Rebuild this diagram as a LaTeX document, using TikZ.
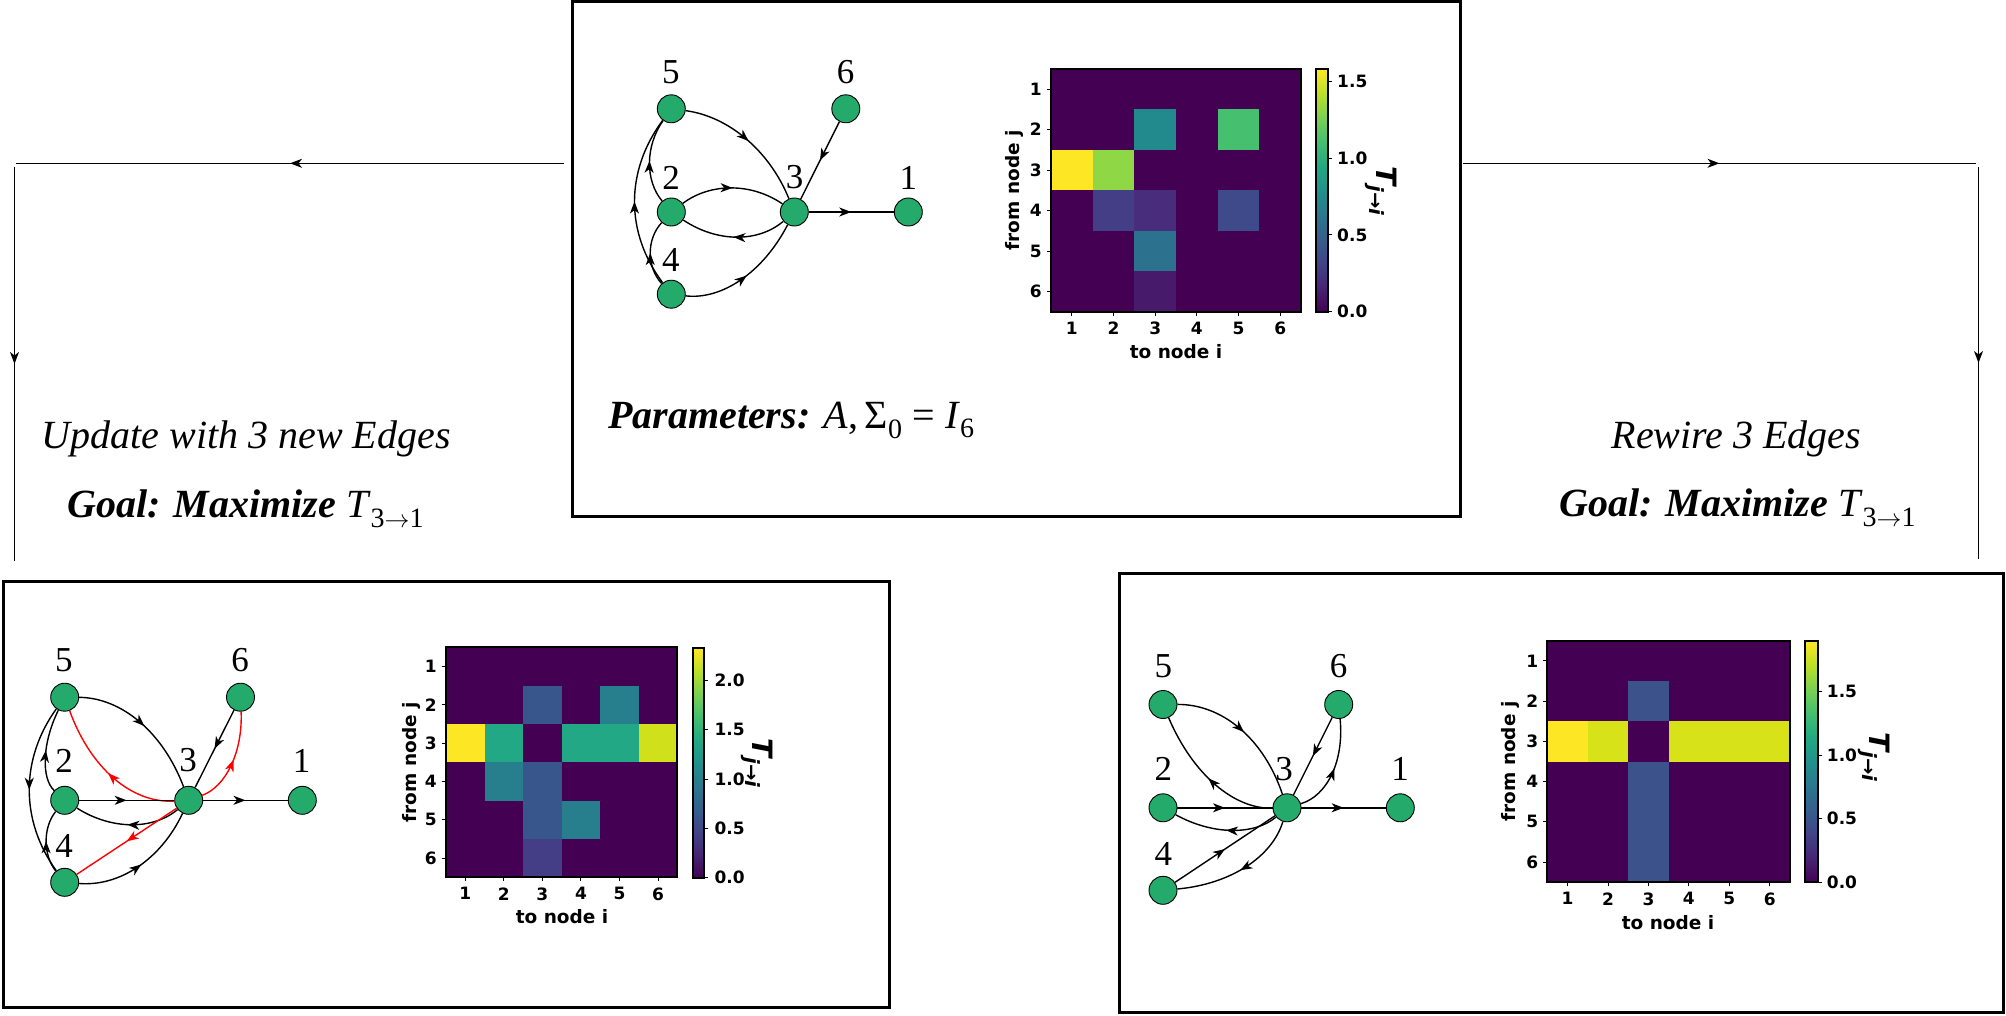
\documentclass[tikz,border=0pt]{standalone}
\usepackage{fontspec}
\setmainfont{Liberation Serif}
\newfontfamily\dvsfont{DejaVu Sans}
\usetikzlibrary{arrows.meta,decorations.markings,calc}

\definecolor{ngreen}{RGB}{36,170,106}
\definecolor{vA}{HTML}{440154}
\definecolor{vB}{HTML}{482475}
\definecolor{vC}{HTML}{414487}
\definecolor{vD}{HTML}{355F8D}
\definecolor{vE}{HTML}{2A788E}
\definecolor{vF}{HTML}{21918C}
\definecolor{vG}{HTML}{22A884}
\definecolor{vH}{HTML}{44BF70}
\definecolor{vI}{HTML}{7AD151}
\definecolor{vJ}{HTML}{BDDF26}
\definecolor{vK}{HTML}{FDE725}
% cell colours
\definecolor{cTeal}{HTML}{228A8D}
\definecolor{cGreen}{HTML}{46C06F}
\definecolor{cLime}{HTML}{8FD744}
\definecolor{cPurA}{HTML}{433E85}
\definecolor{cPurB}{HTML}{472D7B}
\definecolor{cPurC}{HTML}{3E4A89}
\definecolor{cTealB}{HTML}{2C728E}
\definecolor{cPurD}{HTML}{481A6C}
\definecolor{cBlue}{HTML}{39568C}
\definecolor{cTealC}{HTML}{277F8E}
\definecolor{cGreenB}{HTML}{22A884}
\definecolor{cYelG}{HTML}{D0E11C}
\definecolor{cBlueB}{HTML}{3B528B}
\definecolor{cYelH}{HTML}{D8E219}

\pgfdeclareverticalshading{viridis}{100bp}{color(0bp)=(vA); color(25bp)=(vA); color(30bp)=(vB); color(35bp)=(vC); color(40bp)=(vD); color(45bp)=(vE); color(50bp)=(vF); color(55bp)=(vG); color(60bp)=(vH); color(65bp)=(vI); color(70bp)=(vJ); color(75bp)=(vK); color(100bp)=(vK)}

\newcommand\HMcell[3]{\fill[#3] ({\HMx+(#2-1)*\HMw},{\HMy+(#1-1)*\HMh}) rectangle ++(\HMw,\HMh);}
\newcommand\HMframe[1]{%
  \draw[axframe] (\HMx,\HMy) rectangle ({\HMx+6*\HMw},{\HMy+6*\HMh});
  \foreach \k in {1,...,6}{
    \draw[tickln] (\HMx,{\HMy+(\k-0.5)*\HMh}) -- ++(-4,0);
    \node[tlab,anchor=east] (#1-r\k) at ({\HMx-9},{\HMy+(\k-0.5)*\HMh}) {\k};
    \draw[tickln] ({\HMx+(\k-0.5)*\HMw},{\HMy+6*\HMh}) -- ++(0,4);
    \node[tlab,anchor=north] (#1-c\k) at ({\HMx+(\k-0.5)*\HMw},{\HMy+6*\HMh+10}) {\k};
  }}

\begin{document}
\begin{tikzpicture}[x=1pt,y=-1pt,
  box/.style={draw=black,line width=3pt,inner sep=0pt,outer sep=0pt},
  gnode/.style={circle,draw=black,line width=0.9pt,fill=ngreen,minimum size=28pt,inner sep=0pt},
  glab/.style={inner sep=0pt,font=\fontsize{35}{40}\selectfont},
  gedge/.style={draw=#1,line width=1.4pt,postaction={decorate},
    decoration={markings,mark=at position 0.5 with {\arrow[#1]{Stealth[length=12pt,width=9pt,inset=3.5pt]}}}},
  gedge/.default=black,
  axframe/.style={draw=black,line width=2pt},
  tickln/.style={draw=black,line width=0.9pt},
  tlab/.style={inner sep=0pt,font=\dvsfont\bfseries\fontsize{17}{20}\selectfont},
  alab/.style={inner sep=0pt,font=\dvsfont\bfseries\fontsize{18.5}{22}\selectfont},
  cblab/.style={inner sep=0pt,font=\dvsfont\bfseries\itshape\fontsize{28}{32}\selectfont},
  bigit/.style={inner sep=0pt,font=\fontsize{40}{48}\selectfont\itshape},
  bigrm/.style={inner sep=0pt,font=\fontsize{40}{48}\selectfont}]

\fill[white] (0,0) rectangle (2006,1016);

% ---------------- boxes ----------------
\node[box,minimum width=888pt,minimum height=514pt] (topbox) at (1016,259) {};
\node[box,minimum width=886pt,minimum height=426pt] (leftbox) at (446,794) {};
\node[box,minimum width=884pt,minimum height=439pt] (rightbox) at (1561,792.5) {};

% ---------------- connectors ----------------
\coordinate (L1) at (564,163.3);
\coordinate (L2) at (16,163.3);
\coordinate (L3) at (14.5,167);
\coordinate (L4) at (14.5,561);
\coordinate (R1) at (1463,163.3);
\coordinate (R2) at (1976,163.3);
\coordinate (R3) at (1978.5,167);
\coordinate (R4) at (1978.5,559);
\draw[gedge] (L1) -- (L2);
\draw[gedge] (L3) -- (L4);
\draw[gedge] (R1) -- (R2);
\draw[gedge] (R3) -- (R4);

% ---------------- texts ----------------
\node[bigit,anchor=base west] (upd) at (41.5,448.3) {Update with 3 new Edges};
\node[bigrm,anchor=base west] (goalL) at (67,517.7) {\textbf{\textit{Goal: Maximize}} \textit{T}\textsubscript{3\ensuremath{\rightarrow}1}};
\node[bigit,anchor=base west] (rew) at (1611.5,448) {Rewire 3 Edges};
\node[bigrm,anchor=base west] (goalR) at (1559,516.7) {\textbf{\textit{Goal: Maximize}} \textit{T}\textsubscript{3\ensuremath{\rightarrow}1}};
\node[bigrm,anchor=base west] (par) at (608,428) {\textbf{\textit{Parameters:}} \textit{A},\,Σ\textsubscript{0} = \textit{I}\textsubscript{6}};

% ---------------- top graph ----------------
\node[gnode] (a5) at (671.3,108.8) {};
\node[gnode] (a6) at (845.8,108.8) {};
\node[gnode] (a2) at (671.3,212) {};
\node[gnode] (a3) at (794.3,212) {};
\node[gnode] (a1) at (908.3,212) {};
\node[gnode] (a4) at (671.3,294.2) {};
\node[glab] (la5) at (670.8,72.5) {5};
\node[glab] (la6) at (845.7,72.5) {6};
\node[glab] (la2) at (671,177.5) {2};
\node[glab] (la3) at (794.7,177.5) {3};
\node[glab] (la1) at (908.3,177.5) {1};
\node[glab] (la4) at (670.8,260) {4};
\draw[gedge] (a5) .. controls ($(a5)!0.6667!(757,120)$) and ($(a3)!0.6667!(757,120)$) .. (a3);
\draw[gedge] (a6) -- (a3);
\draw[gedge] (a2) .. controls ($(a2)!0.6667!(730,168)$) and ($(a3)!0.6667!(730,168)$) .. (a3);
\draw[gedge] (a3) .. controls ($(a3)!0.6667!(740,258)$) and ($(a2)!0.6667!(740,258)$) .. (a2);
\draw[gedge] (a3) -- (a1);
\draw[gedge] (a4) .. controls ($(a4)!0.6667!(747,303)$) and ($(a3)!0.6667!(747,303)$) .. (a3);
\draw[gedge] (a2) .. controls ($(a2)!0.6667!(632,165)$) and ($(a5)!0.6667!(632,165)$) .. (a5);
\draw[gedge] (a4) .. controls ($(a4)!0.6667!(634,253)$) and ($(a2)!0.6667!(634,253)$) .. (a2);
\draw[gedge] (a4) .. controls ($(a4)!0.6667!(602,202)$) and ($(a5)!0.6667!(602,202)$) .. (a5);

% ---------------- bottom-left graph ----------------
\node[gnode] (b5) at (64.7,697.2) {};
\node[gnode] (b6) at (240.5,697.2) {};
\node[gnode] (b2) at (64.7,800.3) {};
\node[gnode] (b3) at (188.7,800.3) {};
\node[gnode] (b1) at (302.3,800.3) {};
\node[gnode] (b4) at (64.7,882.3) {};
\node[glab] (lb5) at (63.8,660) {5};
\node[glab] (lb6) at (240,660) {6};
\node[glab] (lb2) at (64,760.5) {2};
\node[glab] (lb3) at (188,760.5) {3};
\node[glab] (lb1) at (301.7,760.5) {1};
\node[glab] (lb4) at (64,845.8) {4};
\draw[gedge] (b5) .. controls ($(b5)!0.6667!(150,698)$) and ($(b3)!0.6667!(150,698)$) .. (b3);
\draw[gedge=red] (b3) .. controls ($(b3)!0.6667!(104,805)$) and ($(b5)!0.6667!(104,805)$) .. (b5);
\draw[gedge] (b6) -- (b3);
\draw[gedge=red] (b3) .. controls ($(b3)!0.6667!(244,780)$) and ($(b6)!0.6667!(244,780)$) .. (b6);
\draw[gedge] (b2) -- (b3);
\draw[gedge] (b3) .. controls ($(b3)!0.6667!(135,845)$) and ($(b2)!0.6667!(135,845)$) .. (b2);
\draw[gedge=red] (b3) -- (b4);
\draw[gedge] (b4) .. controls ($(b4)!0.6667!(147,889)$) and ($(b3)!0.6667!(147,889)$) .. (b3);
\draw[gedge] (b3) -- (b1);
\draw[gedge] (b2) .. controls ($(b2)!0.6667!(30,768)$) and ($(b5)!0.6667!(30,768)$) .. (b5);
\draw[gedge] (b5) .. controls ($(b5)!0.6667!(-2,790)$) and ($(b4)!0.6667!(-2,790)$) .. (b4);
\draw[gedge] (b4) .. controls ($(b4)!0.6667!(32,841)$) and ($(b2)!0.6667!(32,841)$) .. (b2);

% ---------------- bottom-right graph ----------------
\node[gnode] (c5) at (1163,704.5) {};
\node[gnode] (c6) at (1338.7,704.5) {};
\node[gnode] (c2) at (1163,807.8) {};
\node[gnode] (c3) at (1287,807.8) {};
\node[gnode] (c1) at (1400.3,807.8) {};
\node[gnode] (c4) at (1163,890.3) {};
\node[glab] (lc5) at (1163.3,666) {5};
\node[glab] (lc6) at (1338.5,666) {6};
\node[glab] (lc2) at (1163.3,769) {2};
\node[glab] (lc3) at (1284,769) {3};
\node[glab] (lc1) at (1400,769) {1};
\node[glab] (lc4) at (1163.3,854) {4};
\draw[gedge] (c5) .. controls ($(c5)!0.6667!(1252,704)$) and ($(c3)!0.6667!(1252,704)$) .. (c3);
\draw[gedge] (c3) .. controls ($(c3)!0.6667!(1208,810)$) and ($(c5)!0.6667!(1208,810)$) .. (c5);
\draw[gedge] (c6) -- (c3);
\draw[gedge] (c3) .. controls ($(c3)!0.6667!(1347,790)$) and ($(c6)!0.6667!(1347,790)$) .. (c6);
\draw[gedge] (c2) -- (c3);
\draw[gedge] (c3) .. controls ($(c3)!0.6667!(1238,849)$) and ($(c2)!0.6667!(1238,849)$) .. (c2);
\draw[gedge] (c4) -- (c3);
\draw[gedge] (c3) .. controls ($(c3)!0.6667!(1265,881)$) and ($(c4)!0.6667!(1265,881)$) .. (c4);
\draw[gedge] (c3) -- (c1);

% ---------------- top heatmap ----------------
\def\HMx{1051}\def\HMy{69}\def\HMw{41.667}\def\HMh{40.45}
\fill[vA] (\HMx,\HMy) rectangle ({\HMx+6*\HMw},{\HMy+6*\HMh});
\HMcell{2}{3}{cTeal}
\HMcell{2}{5}{cGreen}
\HMcell{3}{1}{vK}
\HMcell{3}{2}{cLime}
\HMcell{4}{2}{cPurA}
\HMcell{4}{3}{cPurB}
\HMcell{4}{5}{cPurC}
\HMcell{5}{3}{cTealB}
\HMcell{6}{3}{cPurD}
\HMframe{A}
\node[alab,rotate=90] (A-yl) at (1014,190.4) {from node j};
\node[alab] (A-xl) at (1176,351.7) {to node i};
\shade[shading=viridis] (1316,69) rectangle (1328.3,311.7);
\draw[axframe] (1316,69) rectangle (1328.3,311.7);
\foreach \v/\yy in {0.0/311.7,0.5/234.9,1.0/158.1,1.5/81.3}{
  \draw[tickln] (1328.3,\yy) -- ++(4,0);
  \node[tlab,anchor=west] (A-cb\v) at (1337,\yy) {\v};
}
\node[cblab,rotate=-90] (A-cbl) at (1381,191) {T\textsubscript{j→i}};

% ---------------- bottom-left heatmap ----------------
\def\HMx{446}\def\HMy{647.3}\def\HMw{38.55}\def\HMh{38.33}
\fill[vA] (\HMx,\HMy) rectangle ({\HMx+6*\HMw},{\HMy+6*\HMh});
\HMcell{2}{3}{cBlue}
\HMcell{2}{5}{cTealC}
\HMcell{3}{1}{vK}
\HMcell{3}{2}{cGreenB}
\HMcell{3}{4}{cGreenB}
\HMcell{3}{5}{cGreenB}
\HMcell{3}{6}{cYelG}
\HMcell{4}{2}{cTealC}
\HMcell{4}{3}{cBlue}
\HMcell{5}{3}{cBlue}
\HMcell{5}{4}{cTealC}
\HMcell{6}{3}{cPurA}
\HMframe{B}
\node[alab,rotate=90] (B-yl) at (411,762.3) {from node j};
\node[alab] (B-xl) at (562,917) {to node i};
\shade[shading=viridis] (693.3,647.7) rectangle (704.3,877.7);
\draw[axframe] (693.3,647.7) rectangle (704.3,877.7);
\foreach \v/\yy in {0.0/877.7,0.5/828.3,1.0/779,1.5/729.6,2.0/680.3}{
  \draw[tickln] (704.3,\yy) -- ++(4,0);
  \node[tlab,anchor=west] (B-cb\v) at (714.3,\yy) {\v};
}
\node[cblab,rotate=-90] (B-cbl) at (757,763) {T\textsubscript{j→i}};

% ---------------- bottom-right heatmap ----------------
\def\HMx{1547.3}\def\HMy{640.7}\def\HMw{40.45}\def\HMh{40.27}
\fill[vA] (\HMx,\HMy) rectangle ({\HMx+6*\HMw},{\HMy+6*\HMh});
\HMcell{2}{3}{cBlueB}
\HMcell{3}{1}{vK}
\HMcell{3}{2}{cYelH}
\HMcell{3}{4}{cYelH}
\HMcell{3}{5}{cYelH}
\HMcell{3}{6}{cYelH}
\HMcell{4}{3}{cBlueB}
\HMcell{5}{3}{cBlueB}
\HMcell{6}{3}{cBlueB}
\HMframe{C}
\node[alab,rotate=90] (C-yl) at (1510,761.5) {from node j};
\node[alab] (C-xl) at (1668,923) {to node i};
\shade[shading=viridis] (1805,640.7) rectangle (1818.3,882.3);
\draw[axframe] (1805,640.7) rectangle (1818.3,882.3);
\foreach \v/\yy in {0.0/882.3,0.5/818.7,1.0/755.1,1.5/691.5}{
  \draw[tickln] (1818.3,\yy) -- ++(4,0);
  \node[tlab,anchor=west] (C-cb\v) at (1826.7,\yy) {\v};
}
\node[cblab,rotate=-90] (C-cbl) at (1874,757) {T\textsubscript{j→i}};

\end{tikzpicture}
\end{document}
